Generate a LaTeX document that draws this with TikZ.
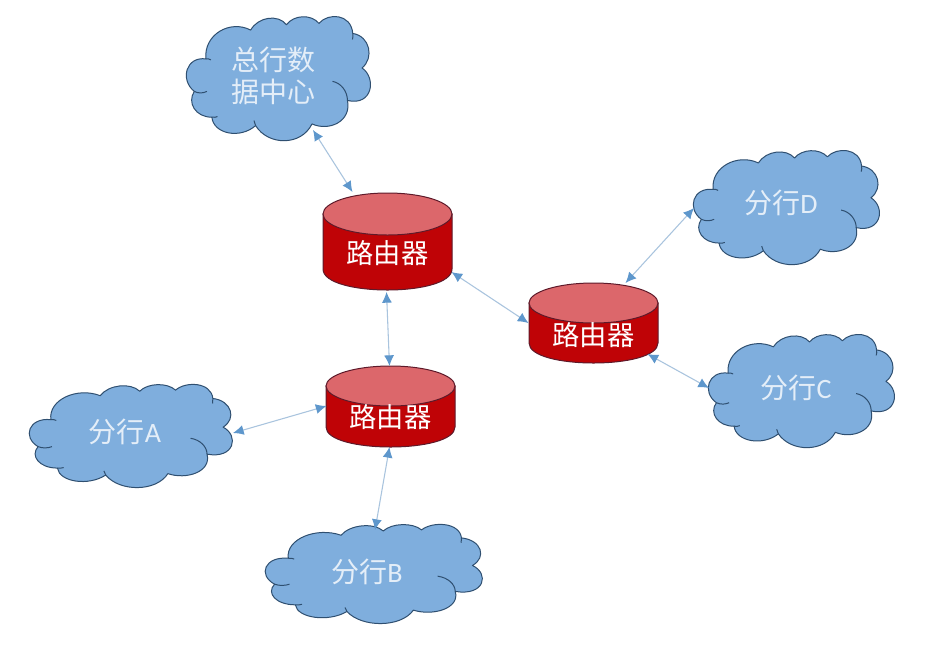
\documentclass[tikz,border=0pt]{standalone}
\usepackage{fontspec}
\setmainfont{Carlito}
\newfontfamily\cjk{Noto Sans CJK SC}
\usetikzlibrary{arrows.meta}
\definecolor{cloudfill}{HTML}{7FAEDD}
\definecolor{cloudline}{HTML}{2F4F70}
\definecolor{cloudtext}{HTML}{E4EEF8}
\definecolor{cylbody}{HTML}{BF0306}
\definecolor{cyltop}{HTML}{DC676B}
\definecolor{cylline}{HTML}{5E1A2A}
\definecolor{linkc}{HTML}{A9C4DE}
\definecolor{tipc}{HTML}{5E97CC}
\tikzset{
 cloudlabel/.style={text=cloudtext,font=\fontsize{21}{24}\selectfont,align=center,inner sep=0pt},
 routerlabel/.style={text=white,font=\cjk\fontsize{20.5}{24}\selectfont,inner sep=0pt},
 cloudskin/.style={draw=cloudline,line width=.75pt,fill=cloudfill,line join=round},
 cloudhook/.style={draw=cloudline,line width=.75pt},
 routerskin/.style={draw=cylline,line width=.75pt},
 link/.style={draw=linkc,line width=.8pt,{Latex[length=8pt,width=7.5pt,color=tipc]}-{Latex[length=8pt,width=7.5pt,color=tipc]}}
}
% name, xmin, ymin, xmax, ymax, text x, text y, text
\newcommand{\cloudnode}[8]{%
 \pgfmathsetmacro{\cxs}{(#4-#2)/555*.75}%
 \pgfmathsetmacro{\cys}{-(#5-#3)/370*.75}%
 \begin{scope}[shift={(#2,#3)},x=\cxs pt,y=\cys pt]
  \draw[cloudskin] (57,128)
   .. controls (50,55) and (130,10) .. (192,42)
   .. controls (215,2) and (275,-6) .. (300,26)
   .. controls (322,-4) and (375,-6) .. (398,22)
   .. controls (425,-10) and (495,-8) .. (500,52)
   .. controls (552,60) and (565,125) .. (528,155)
   .. controls (572,185) and (560,270) .. (484,252)
   .. controls (497,315) and (428,345) .. (377,322)
   .. controls (345,388) and (245,388) .. (207,327)
   .. controls (160,368) and (80,352) .. (75,302)
   .. controls (25,302) and (0,258) .. (22,225)
   .. controls (-22,190) and (-3,120) .. (57,128) -- cycle;
  \draw[cloudhook] (439,195) .. controls (465,200) and (484,225) .. (484,252);
  \draw[cloudhook] (22,225) .. controls (35,232) and (50,230) .. (60,225);
  \draw[cloudhook] (75,302) .. controls (82,303) and (88,302) .. (92,300);
  \draw[cloudhook] (207,327) .. controls (204,322) and (203,317) .. (202,312);
  \draw[cloudhook] (57,128) .. controls (62,127) and (68,128) .. (72,131);
  \draw[cloudhook] (500,52) .. controls (501,58) and (501,64) .. (499,70);
 \end{scope}
 \node[cloudlabel] (#1) at (#6,#7) {#8};}
% name, xmin, xmax, ytop, ybottom, y radius, text y
\newcommand{\routernode}[7]{%
 \pgfmathsetmacro{\rxc}{(#2+#3)/2}%
 \pgfmathsetmacro{\rxr}{(#3-#2)/2}%
 \pgfmathsetmacro{\rya}{#4+#6}%
 \pgfmathsetmacro{\ryb}{#5-#6}%
 \pgfmathsetmacro{\ryc}{#5+#6/3}%
 \draw[routerskin,fill=cylbody] (#2,\rya) -- (#2,\ryb)
   .. controls (#2,\ryc) and (#3,\ryc) .. (#3,\ryb) -- (#3,\rya) -- cycle;
 \draw[routerskin,fill=cyltop] (\rxc,\rya) ellipse [x radius=\rxr,y radius=#6];
 \node[routerlabel] (#1) at (\rxc,#7) {路由器};}
\begin{document}
\begin{tikzpicture}[x=.75pt,y=-.75pt]
\useasboundingbox (0,0) rectangle (933,644);
\fill[white] (0,0) rectangle (933,644);
\routernode{rone}{323}{452}{193}{290}{21}{253}
\routernode{rtwo}{529}{658}{283}{363}{20}{335}
\routernode{rthree}{326}{455}{366}{447}{20}{417}
\cloudnode{hq}{187}{16}{371}{140}{273}{76}{{\cjk 总行数}\\{\cjk 据中心}}
\cloudnode{d}{694}{150}{880}{264}{781}{203}{{\cjk 分行}D}
\cloudnode{c}{709}{334}{895}{447}{796}{388}{{\cjk 分行}C}
\cloudnode{a}{30}{384}{233}{487}{125}{432}{{\cjk 分行}A}
\cloudnode{b}{266}{524}{483}{623}{367}{572}{{\cjk 分行}B}
\draw[link] ([shift={(40,54)}]hq.center) -- ([shift={(-35,-61)}]rone.center);
\draw[link] ([shift={(-1,39)}]rone.center) -- ([shift={(-1,-51)}]rthree.center);
\draw[link] ([shift={(64,19)}]rone.center) -- ([shift={(-65,-12)}]rtwo.center);
\draw[link] ([shift={(32,-52)}]rtwo.center) -- ([shift={(-87,5)}]d.center);
\draw[link] ([shift={(54,19)}]rtwo.center) -- ([shift={(-87,0)}]c.center);
\draw[link] ([shift={(-64,-11)}]rthree.center) -- ([shift={(108,1)}]a.center);
\draw[link] ([shift={(-1,30)}]rthree.center) -- ([shift={(8,-42)}]b.center);
\end{tikzpicture}
\end{document}
